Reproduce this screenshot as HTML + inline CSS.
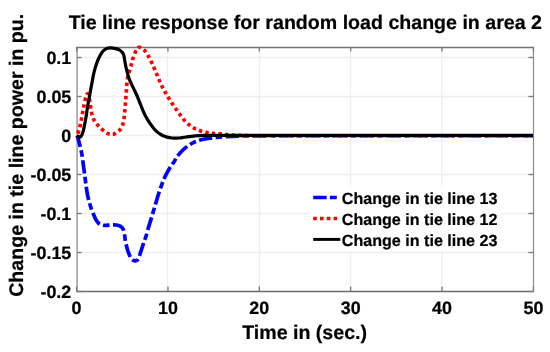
<!DOCTYPE html>
<html><head><meta charset="utf-8"><style>
html,body{margin:0;padding:0;background:#fff;width:550px;height:352px;overflow:hidden}
svg{display:block}
text{font-family:'Liberation Sans',Arial,Helvetica,sans-serif;font-weight:bold;fill:#000;text-rendering:geometricPrecision;stroke:#000;stroke-width:0.22px}
</style></head><body>
<svg width="550" height="352" viewBox="0 0 550 352">
<rect x="0" y="0" width="550" height="352" fill="#fff"/>
<g stroke="#eeeeee" stroke-width="1.3" fill="none">
<line x1="167.50" y1="47" x2="167.50" y2="291"/>
<line x1="259.50" y1="47" x2="259.50" y2="291"/>
<line x1="350.50" y1="47" x2="350.50" y2="291"/>
<line x1="441.80" y1="47" x2="441.80" y2="291"/>
<line x1="77" y1="57.50" x2="533" y2="57.50"/>
<line x1="77" y1="96.50" x2="533" y2="96.50"/>
<line x1="77" y1="135.50" x2="533" y2="135.50"/>
<line x1="77" y1="174.50" x2="533" y2="174.50"/>
<line x1="77" y1="213.50" x2="533" y2="213.50"/>
<line x1="77" y1="252.50" x2="533" y2="252.50"/>
</g>
<g fill="none">
<line x1="77.1" y1="46.8" x2="77.1" y2="292" stroke="#9a9a9a" stroke-width="1.5"/>
<line x1="76.4" y1="47.5" x2="534" y2="47.5" stroke="#737373" stroke-width="1.3"/>
<line x1="76.4" y1="291.5" x2="534" y2="291.5" stroke="#6c6c6c" stroke-width="1.3"/>
<line x1="533.5" y1="46.8" x2="533.5" y2="292" stroke="#8a8a8a" stroke-width="1.2"/>
</g>
<g stroke="#7a7a7a" stroke-width="1.3" fill="none">
<line x1="76.60" y1="291.00" x2="76.60" y2="286.40"/>
<line x1="76.60" y1="47.00" x2="76.60" y2="51.60"/>
<line x1="167.96" y1="291.00" x2="167.96" y2="286.40"/>
<line x1="167.96" y1="47.00" x2="167.96" y2="51.60"/>
<line x1="259.32" y1="291.00" x2="259.32" y2="286.40"/>
<line x1="259.32" y1="47.00" x2="259.32" y2="51.60"/>
<line x1="350.68" y1="291.00" x2="350.68" y2="286.40"/>
<line x1="350.68" y1="47.00" x2="350.68" y2="51.60"/>
<line x1="442.04" y1="291.00" x2="442.04" y2="286.40"/>
<line x1="442.04" y1="47.00" x2="442.04" y2="51.60"/>
<line x1="533.40" y1="291.00" x2="533.40" y2="286.40"/>
<line x1="533.40" y1="47.00" x2="533.40" y2="51.60"/>
<line x1="77.00" y1="57.50" x2="81.60" y2="57.50"/>
<line x1="533.00" y1="57.50" x2="528.40" y2="57.50"/>
<line x1="77.00" y1="96.50" x2="81.60" y2="96.50"/>
<line x1="533.00" y1="96.50" x2="528.40" y2="96.50"/>
<line x1="77.00" y1="135.50" x2="81.60" y2="135.50"/>
<line x1="533.00" y1="135.50" x2="528.40" y2="135.50"/>
<line x1="77.00" y1="174.50" x2="81.60" y2="174.50"/>
<line x1="533.00" y1="174.50" x2="528.40" y2="174.50"/>
<line x1="77.00" y1="213.50" x2="81.60" y2="213.50"/>
<line x1="533.00" y1="213.50" x2="528.40" y2="213.50"/>
<line x1="77.00" y1="252.50" x2="81.60" y2="252.50"/>
<line x1="533.00" y1="252.50" x2="528.40" y2="252.50"/>
<line x1="77.00" y1="291.50" x2="81.60" y2="291.50"/>
<line x1="533.00" y1="291.50" x2="528.40" y2="291.50"/>
</g>
<g fill="none" stroke-linejoin="round">
<path d="M77.00,135.50 C77.10,135.75 77.25,135.88 77.60,137.00 C77.95,138.12 78.57,140.20 79.10,142.20 C79.63,144.20 80.32,146.87 80.80,149.00 C81.28,151.13 81.67,152.98 82.00,155.00 C82.33,157.02 82.52,159.02 82.80,161.10 C83.08,163.18 83.42,165.42 83.70,167.50 C83.98,169.58 84.22,171.43 84.50,173.60 C84.78,175.77 85.08,178.10 85.40,180.50 C85.72,182.90 86.03,185.50 86.40,188.00 C86.77,190.50 87.10,193.07 87.60,195.50 C88.10,197.93 88.77,200.35 89.40,202.60 C90.03,204.85 90.68,206.98 91.40,209.00 C92.12,211.02 92.95,212.93 93.70,214.70 C94.45,216.47 95.05,218.13 95.90,219.60 C96.75,221.07 97.78,222.60 98.80,223.50 C99.82,224.40 100.97,224.68 102.00,225.00 C103.03,225.32 104.00,225.37 105.00,225.40 C106.00,225.43 106.92,225.28 108.00,225.20 C109.08,225.12 110.13,224.93 111.50,224.90 C112.87,224.87 114.73,224.78 116.20,225.00 C117.67,225.22 119.17,225.55 120.30,226.20 C121.43,226.85 122.32,227.65 123.00,228.90 C123.68,230.15 124.03,231.87 124.40,233.70 C124.77,235.53 124.87,237.93 125.20,239.90 C125.53,241.87 125.95,243.65 126.40,245.50 C126.85,247.35 127.32,249.25 127.90,251.00 C128.48,252.75 129.15,254.55 129.90,256.00 C130.65,257.45 131.55,258.90 132.40,259.70 C133.25,260.50 134.15,260.77 135.00,260.80 C135.85,260.83 136.80,260.62 137.50,259.90 C138.20,259.18 138.63,257.93 139.20,256.50 C139.77,255.07 140.33,253.02 140.90,251.30 C141.47,249.58 142.03,247.92 142.60,246.20 C143.17,244.48 143.73,242.65 144.30,241.00 C144.87,239.35 145.30,238.60 146.00,236.30 C146.70,234.00 147.73,229.82 148.50,227.20 C149.27,224.58 149.95,222.70 150.60,220.60 C151.25,218.50 151.78,216.65 152.40,214.60 C153.02,212.55 153.63,210.53 154.30,208.30 C154.97,206.07 155.70,203.57 156.40,201.20 C157.10,198.83 157.67,196.70 158.50,194.10 C159.33,191.50 160.45,188.20 161.40,185.60 C162.35,183.00 163.13,180.87 164.20,178.50 C165.27,176.13 166.62,173.53 167.80,171.40 C168.98,169.27 170.20,167.40 171.30,165.70 C172.40,164.00 173.43,162.72 174.40,161.20 C175.37,159.68 176.08,158.05 177.10,156.60 C178.12,155.15 179.28,153.83 180.50,152.50 C181.72,151.17 182.98,149.82 184.40,148.60 C185.82,147.38 187.52,146.20 189.00,145.20 C190.48,144.20 191.73,143.37 193.30,142.60 C194.87,141.83 196.70,141.15 198.40,140.60 C200.10,140.05 201.57,139.72 203.50,139.30 C205.43,138.88 207.65,138.43 210.00,138.10 C212.35,137.77 215.00,137.55 217.60,137.30 C220.20,137.05 221.72,136.82 225.60,136.60 C229.48,136.38 234.83,136.13 240.90,136.00 C246.97,135.87 255.48,135.84 262.00,135.80 C268.52,135.76 277.00,135.76 280.00,135.75 C322.17,135.75 490.83,135.75 533.00,135.75" stroke="#0000ff" stroke-width="3.7" stroke-dasharray="13.4,3.4,6.7,3.4" stroke-dashoffset="1.52"/>
<path d="M77.00,135.50 C77.15,135.15 77.53,134.43 77.90,133.40 C78.27,132.37 78.80,130.70 79.20,129.30 C79.60,127.90 79.97,126.45 80.30,125.00 C80.63,123.55 80.90,122.18 81.20,120.60 C81.50,119.02 81.78,117.23 82.10,115.50 C82.42,113.77 82.75,112.02 83.10,110.20 C83.45,108.38 83.82,106.48 84.20,104.60 C84.58,102.72 85.00,100.50 85.40,98.90 C85.80,97.30 86.22,95.85 86.60,95.00 C86.98,94.15 87.32,93.58 87.70,93.80 C88.08,94.02 88.52,94.85 88.90,96.30 C89.28,97.75 89.63,100.25 90.00,102.50 C90.37,104.75 90.62,107.28 91.10,109.80 C91.58,112.32 91.93,115.20 92.90,117.60 C93.87,120.00 95.42,122.27 96.90,124.20 C98.38,126.13 100.10,127.70 101.80,129.20 C103.50,130.70 105.57,132.35 107.10,133.20 C108.63,134.05 109.77,134.20 111.00,134.30 C112.23,134.40 113.13,134.42 114.50,133.80 C115.87,133.18 117.90,131.90 119.20,130.60 C120.50,129.30 121.52,127.93 122.30,126.00 C123.08,124.07 123.50,121.28 123.90,119.00 C124.30,116.72 124.47,114.55 124.70,112.30 C124.93,110.05 125.12,107.77 125.30,105.50 C125.48,103.23 125.63,100.98 125.80,98.70 C125.97,96.42 126.13,94.08 126.30,91.80 C126.47,89.52 126.60,87.18 126.80,85.00 C127.00,82.82 127.10,80.87 127.50,78.70 C127.90,76.53 128.60,74.18 129.20,72.00 C129.80,69.82 130.48,67.80 131.10,65.60 C131.72,63.40 132.22,61.00 132.90,58.80 C133.58,56.60 134.47,54.10 135.20,52.40 C135.93,50.70 136.67,49.43 137.30,48.60 C137.93,47.77 138.35,47.50 139.00,47.40 C139.65,47.30 140.28,47.52 141.20,48.00 C142.12,48.48 143.32,48.97 144.50,50.30 C145.68,51.63 147.17,54.10 148.30,56.00 C149.43,57.90 150.33,59.72 151.30,61.70 C152.27,63.68 153.20,65.85 154.10,67.90 C155.00,69.95 155.83,71.95 156.70,74.00 C157.57,76.05 158.42,78.17 159.30,80.20 C160.18,82.23 161.05,84.27 162.00,86.20 C162.95,88.13 163.95,89.92 165.00,91.80 C166.05,93.68 167.10,95.53 168.30,97.50 C169.50,99.47 170.90,101.65 172.20,103.60 C173.50,105.55 174.80,107.37 176.10,109.20 C177.40,111.03 178.72,112.87 180.00,114.60 C181.28,116.33 182.40,118.00 183.80,119.60 C185.20,121.20 186.70,122.78 188.40,124.20 C190.10,125.62 192.08,127.02 194.00,128.10 C195.92,129.18 197.82,129.98 199.90,130.70 C201.98,131.42 204.28,131.97 206.50,132.40 C208.72,132.83 210.92,133.05 213.20,133.30 C215.48,133.55 217.40,133.63 220.20,133.90 C223.00,134.17 225.87,134.61 230.00,134.90 C234.13,135.19 240.00,135.51 245.00,135.65 C250.00,135.79 255.00,135.73 260.00,135.75 C265.00,135.77 272.50,135.75 275.00,135.75 C318.00,135.75 490.00,135.75 533.00,135.75" stroke="#ff0000" stroke-width="3.7" stroke-dasharray="3.45,3.2" stroke-dashoffset="4.58"/>
<path d="M77.00,135.50 C77.18,135.68 77.62,136.30 78.10,136.60 C78.58,136.90 79.32,137.50 79.90,137.30 C80.48,137.10 81.07,136.35 81.60,135.40 C82.13,134.45 82.60,133.37 83.10,131.60 C83.60,129.83 84.12,127.18 84.60,124.80 C85.08,122.42 85.60,119.67 86.00,117.30 C86.40,114.93 86.67,112.78 87.00,110.60 C87.33,108.42 87.62,106.38 88.00,104.20 C88.38,102.02 88.88,99.73 89.30,97.50 C89.72,95.27 90.12,92.92 90.50,90.80 C90.88,88.68 91.12,87.40 91.60,84.80 C92.08,82.20 92.80,78.02 93.40,75.20 C94.00,72.38 94.52,70.23 95.20,67.90 C95.88,65.57 96.73,63.17 97.50,61.20 C98.27,59.23 98.97,57.68 99.80,56.10 C100.63,54.52 101.48,52.90 102.50,51.70 C103.52,50.50 104.55,49.52 105.90,48.90 C107.25,48.27 108.98,48.00 110.60,47.95 C112.22,47.90 114.15,48.28 115.60,48.60 C117.05,48.92 118.23,49.33 119.30,49.90 C120.37,50.47 121.55,51.65 122.00,52.00 C122.28,52.50 123.23,53.53 123.70,55.00 C124.17,56.47 124.45,58.92 124.80,60.80 C125.15,62.68 125.45,64.62 125.80,66.30 C126.15,67.98 126.47,69.20 126.90,70.90 C127.33,72.60 127.78,74.62 128.40,76.50 C129.02,78.38 129.78,80.30 130.60,82.20 C131.42,84.10 132.43,86.10 133.30,87.90 C134.17,89.70 135.00,91.27 135.80,93.00 C136.60,94.73 137.42,96.65 138.10,98.30 C138.78,99.95 139.30,101.37 139.90,102.90 C140.50,104.43 141.08,105.97 141.70,107.50 C142.32,109.03 142.90,110.57 143.60,112.10 C144.30,113.63 145.08,115.20 145.90,116.70 C146.72,118.20 147.60,119.70 148.50,121.10 C149.40,122.50 150.45,123.92 151.30,125.10 C152.15,126.28 152.63,127.07 153.60,128.20 C154.57,129.33 155.90,130.85 157.10,131.90 C158.30,132.95 159.57,133.77 160.80,134.50 C162.03,135.23 163.28,135.82 164.50,136.30 C165.72,136.78 166.88,137.12 168.10,137.40 C169.32,137.68 170.57,137.87 171.80,138.00 C173.03,138.13 174.27,138.20 175.50,138.20 C176.73,138.20 177.97,138.12 179.20,138.00 C180.43,137.88 181.77,137.67 182.90,137.50 C184.03,137.33 184.58,137.20 186.00,137.00 C187.42,136.80 189.27,136.52 191.40,136.30 C193.53,136.08 196.35,135.84 198.80,135.70 C201.25,135.56 203.40,135.49 206.10,135.45 C208.80,135.41 211.02,135.45 215.00,135.45 C218.98,135.45 227.50,135.45 230.00,135.45 C280.50,135.45 482.50,135.45 533.00,135.45" stroke="#000" stroke-width="3.2"/>
</g>
<rect x="310" y="185.5" width="191" height="65.5" fill="#fff"/>
<g stroke-width="3.6" fill="none">
<line x1="313.2" y1="197.5" x2="340.3" y2="197.5" stroke="#0000ff" stroke-dasharray="13.5,3.2,6.9,3.5"/>
<line x1="313.2" y1="218.5" x2="340.3" y2="218.5" stroke="#ff0000" stroke-dasharray="3.6,3.2"/>
<line x1="313.2" y1="239.4" x2="340.3" y2="239.4" stroke="#000" stroke-width="2.95"/>
</g>
<g style="font-size:16.1px">
<text x="341.8" y="203.6">Change in tie line 13</text>
<text x="341.8" y="224.7">Change in tie line 12</text>
<text x="341.8" y="245.7">Change in tie line 23</text>
</g>
<g style="font-size:17.9px">
<text x="71.3" y="64.00" text-anchor="end">0.1</text>
<text x="71.3" y="103.00" text-anchor="end">0.05</text>
<text x="71.3" y="142.00" text-anchor="end">0</text>
<text x="71.3" y="181.00" text-anchor="end">-0.05</text>
<text x="71.3" y="220.00" text-anchor="end">-0.1</text>
<text x="71.3" y="259.00" text-anchor="end">-0.15</text>
<text x="71.3" y="298.00" text-anchor="end">-0.2</text>
<text x="76.60" y="314.1" text-anchor="middle">0</text>
<text x="167.96" y="314.1" text-anchor="middle">10</text>
<text x="259.32" y="314.1" text-anchor="middle">20</text>
<text x="350.68" y="314.1" text-anchor="middle">30</text>
<text x="442.04" y="314.1" text-anchor="middle">40</text>
<text x="533.40" y="314.1" text-anchor="middle">50</text>
</g>
<text x="305.3" y="29.1" text-anchor="middle" style="font-size:19.6px">Tie line response for random load change in area 2</text>
<text x="304.6" y="339.4" text-anchor="middle" style="font-size:19.6px">Time in (sec.)</text>
<text transform="translate(23.4,155.3) rotate(-90)" x="0" y="0" text-anchor="middle" style="font-size:19.6px">Change in tie line power in pu.</text>
</svg>
</body></html>
